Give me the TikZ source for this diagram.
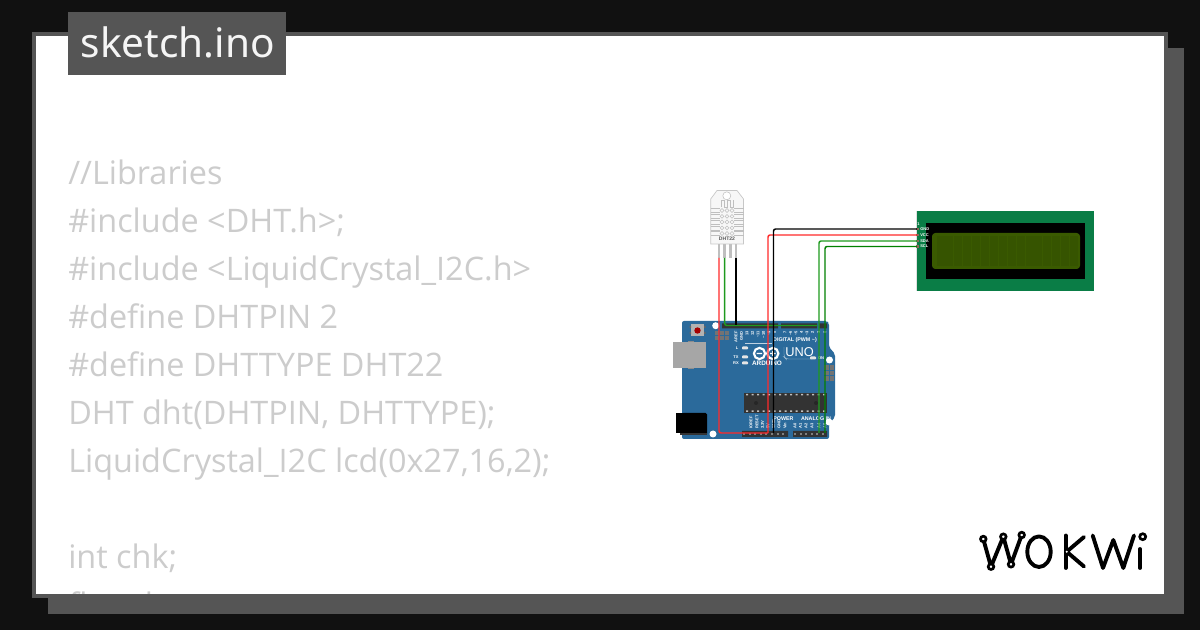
\documentclass[tikz,border=0pt]{standalone}
\usepackage{fontspec}
\setmainfont{Open Sans}
\newfontfamily\titlefont{Noto Sans}
\newfontfamily\tinyfont{Liberation Sans}
\definecolor{bgdark}{HTML}{111111}
\definecolor{framegray}{HTML}{555555}
\definecolor{codegray}{HTML}{CCCCCC}
\definecolor{unoblue}{HTML}{2B6A9B}
\definecolor{lcdgreen}{HTML}{0A7D46}
\definecolor{lcdscreen}{HTML}{3A5A00}
\definecolor{lcdcell}{HTML}{365400}
\definecolor{wirered}{HTML}{FF2A2A}
\definecolor{wiregreen}{HTML}{1E9A1E}
\definecolor{wiredark}{HTML}{008000}
\definecolor{hdr}{HTML}{333333}
\definecolor{pinbrown}{HTML}{8C6A5A}
\tikzset{
  codeline/.style={anchor=base west,inner sep=0pt,text=codegray,font=\fontsize{24.3pt}{24.3pt}\selectfont},
  wirebase/.style={line width=1.1pt,rounded corners=1.6pt},
  logostroke/.style={line width=2.9pt,line cap=round,line join=round,black},
  logoring/.style={draw=black,line width=2pt,fill=white},
  silk/.style={inner sep=0pt,text=white,font=\tinyfont\bfseries\fontsize{3pt}{3pt}\selectfont},
  silkb/.style={inner sep=0pt,text=white,font=\tinyfont\bfseries\fontsize{4pt}{4pt}\selectfont},
  pad/.style={fill=black!55,draw=none},
  led/.style={fill=white!90!black,draw=none,rounded corners=0.6pt},
}
\begin{document}
\begin{tikzpicture}[x=0.75pt,y=-0.75pt]
\useasboundingbox (0,0) rectangle (1200,630);
% page
\fill[bgdark] (0,0) rectangle (1200,630);
\fill[framegray] (48,48) rectangle (1184,614);
\fill[framegray] (32,32) rectangle (1168,598);
\fill[white] (36,36) rectangle (1164,594);
% code
\begin{scope}
\clip (36,36) rectangle (1164,594);
\node[codeline] (c1) at (68,184.6) {//Libraries};
\node[codeline] (c2) at (68,232.6) {\#include <DHT.h>;};
\node[codeline] (c3) at (68,280.6) {\#include <LiquidCrystal\_I2C.h>};
\node[codeline] (c4) at (68,328.6) {\#define DHTPIN 2};
\node[codeline] (c5) at (68,376.6) {\#define DHTTYPE DHT22};
\node[codeline] (c6) at (68,424.6) {DHT dht(DHTPIN, DHTTYPE);};
\node[codeline] (c7) at (68,472.6) {LiquidCrystal\_I2C lcd(0x27,16,2);};
\node[codeline] (c8) at (68,568.6) {int chk;};
\node[codeline] (c9) at (68,616.6) {float hum;};
\end{scope}
% title tab
\fill[framegray] (68,12) rectangle (286,75);
\node[anchor=base west,inner sep=0pt,text=white!96!black,font=\titlefont\fontsize{30.4pt}{30.4pt}\selectfont] (title) at (80.5,58) {sketch.ino};
% ===== Arduino board
\fill[unoblue,rounded corners=1.5pt] (682,321) -- (827,321) -- (829,323) -- (829,347) -- (835,354) -- (835,417) -- (829,424) -- (829,439) -- (682,439) -- cycle;
% USB and jack
\fill[black!35] (673,342) rectangle (706,368);
\fill[black!45] (688,341) rectangle (694,342);
\fill[black!45] (688,368) rectangle (694,369.5);
\fill[black] (676,413) rectangle (683,433);
\fill[black,rounded corners=1pt] (682,413) rectangle (707,435);
\fill[hdr] (680,433) rectangle (707,435.5);
% reset
\fill[black!30] (691,324) rectangle (704,336);
\fill[black!60] (689.5,326) rectangle (691,328) (689.5,332) rectangle (691,334) (704,326) rectangle (705.5,328) (704,332) rectangle (705.5,334);
\fill[red!65!black] (697.5,330.5) circle (3.2);
% holes
\fill[white] (715.7,325.7) circle (3.5) (829.5,360) circle (3.5) (829,422) circle (3.5) (713,434) circle (3.5);
% headers
\fill[hdr] (722,323.5) rectangle (778,328.5) (781,323.5) rectangle (817,328.5) (819,323.5) rectangle (827,328.5);
\fill[hdr] (742,431) rectangle (788,437) (793,431) rectangle (827,437);
\foreach \x in {744,749.6,...,786}{\fill[black!50] (\x-1,433) rectangle (\x+1,435);}
\foreach \x in {795,800.6,...,826}{\fill[black!50] (\x-1,433) rectangle (\x+1,435);}
% ICSP
\foreach \x in {716.5,721.5,727}{\foreach \y in {333,338.5}{\fill[pad] (\x-2,\y-2) rectangle (\x+2,\y+2);}}
\foreach \x in {826.5,832}{\foreach \y in {367.5,373,378.5}{\fill[pad] (\x-2.4,\y-2.2) rectangle (\x+2.4,\y+2.2);}}
% chip
\fill[hdr] (744,393) rectangle (827,413);
\foreach \x in {746,751.5,...,826}{\fill[white!75!black] (\x,394) rectangle (\x+2,395.5) (\x,410.5) rectangle (\x+2,412);}
\fill[black!85] (756,403) circle (2) (816,403) circle (2);
% LEDs
\fill[led] (742,346.5) rectangle (748,349.5) (742,355.5) rectangle (748,358.5) (742,361.5) rectangle (748,364.5) (810,356.5) rectangle (816,359.5);
\node[silk] (ledL) at (737,348) {L};
\node[silk] (ledT) at (736,357) {TX};
\node[silk] (ledR) at (736,363) {RX};
\node[silk] (ledO) at (821,358) {ON};
% logo
\draw[white,line width=1.6pt] (759.5,353.5) circle (5.6) (772.8,353.5) circle (5.6);
\fill[white] (756.5,353) rectangle (762,354.2) (770,353) rectangle (775.6,354.2) (772.2,351) rectangle (773.4,356);
\node[silkb,font=\tinyfont\bfseries\fontsize{4.8pt}{4.8pt}\selectfont] (ardu) at (767,363.6) {ARDUINO};
\node[inner sep=0pt,text=white,font=\tinyfont\fontsize{9.6pt}{9.6pt}\selectfont] (uno) at (799.5,352.5) {UNO};
\draw[white!60!unoblue,line width=0.3pt,rounded corners=2pt] (784,347) -- (784,357) -- (786,359) -- (812,359);
% board text
\node[silkb] (digi) at (795,340) {DIGITAL (PWM \char`\~)};
\draw[white!70!unoblue,line width=0.35pt] (745,343.5) -- (772,343.5);
\node[silkb] (pow) at (783.5,419) {POWER};
\node[silkb] (ana) at (816,419) {ANALOG IN};
\foreach \t/\x in {AREF/736,GND/741.5,13/747,12/752.5,{\char`\~11}/758,{\char`\~10}/763.5,{\char`\~9}/769,8/774.5,{7}/785,{\char`\~6}/790.5,{\char`\~5}/796,4/801.5,{\char`\~3}/807,2/812.5,1/818.5,0/825}{
  \node[silk,rotate=90,anchor=east] at (\x,331) {\t};
}
\foreach \t/\x in {IOREF/751,RESET/757,3.3V/762.5,5V/768,GND/773.5,GND/779,Vin/785,A0/795,A1/800.6,A2/806,A3/812,A4/819,A5/825}{
  \node[silk,rotate=90,anchor=west] at (\x,429) {\t};
}
% ===== DHT22
\foreach \x in {719,724.7,730.3,736}{\draw[black!25,line width=1.9pt] (\x,244) -- (\x,258);}
\filldraw[fill=black!3,draw=black!22,line width=0.5pt] (710.7,244) -- (710.7,199) -- (717,190.5) -- (737,190.5) -- (743.5,199) -- (743.5,244) -- cycle;
\draw[black!25,line width=0.4pt,fill=white] (726.8,195.8) circle (4);
\draw[black!25,line width=0.4pt] (721,207) -- (721,200.5) -- (724,200.5) -- (724,207) -- (727,207) -- (727,200.5) -- (730,200.5) -- (730,207) -- (733,207) -- (733,200.5);
\foreach \y in {210.5,216.3,222,227.8,233.5}{
  \draw[black!25,line width=0.4pt] (710.7,\y-2) -- (720,\y-2) (710.7,\y+2) -- (720,\y+2) (734,\y-2) -- (743.5,\y-2) (734,\y+2) -- (743.5,\y+2);
  \foreach \x in {722,727,732}{\draw[black!25,line width=0.4pt] (\x,\y) circle (1.9);}
}
\node[inner sep=0pt,text=black!65,font=\tinyfont\bfseries\fontsize{3.8pt}{3.8pt}\selectfont] (dhtlabel) at (727,239) {DHT22};
% ===== LCD
\fill[lcdgreen] (915.7,211) rectangle (1094,291);
\draw[black!12,line width=0.3pt] (915.8,211) -- (915.8,291);
\fill[black] (926,223) rectangle (1085,279);
\fill[lcdscreen,rounded corners=2.5pt] (932,233) rectangle (1080,269);
\foreach \i in {0,...,15}{\fill[lcdcell] (936.5+\i*8.9,236) rectangle (944.5+\i*8.9,266);}
\foreach \y in {229,235,241,246.5}{\fill[pinbrown] (915.5,\y-1.3) rectangle (918.5,\y+1.3);}
\node[silk,anchor=west] (lcd1) at (917,224.5) {1};
\node[silk,anchor=west] (lgnd) at (920,229) {GND};
\node[silk,anchor=west] (lvcc) at (920,235) {VCC};
\node[silk,anchor=west] (lsda) at (920,241) {SDA};
\node[silk,anchor=west] (lscl) at (920,246.5) {SCL};
% ===== connection points
\coordinate (dhtvcc) at (719,258);
\coordinate (dhtsda) at (724.7,258);
\coordinate (dhtgnd) at (736,258);
\coordinate (unoGndTop) at (736,325);
\coordinate (unoD2) at (817,325.5);
\coordinate (uno5v) at (768,433);
\coordinate (unoGndBot) at (773.5,433);
\coordinate (unoA4) at (819,433);
\coordinate (unoA5) at (825,433);
\coordinate (lcdgnd) at (917,229);
\coordinate (lcdvcc) at (917,235);
\coordinate (lcdsda) at (917,241);
\coordinate (lcdscl) at (917,246.5);
% wires
\draw[wirebase,wiregreen] (dhtsda) |- (unoD2);
\draw[wirebase,black] (dhtgnd) -- (unoGndTop);
\draw[wirebase,wirered] (dhtvcc) |- (uno5v);
\draw[wirebase,wirered] (lcdvcc) -| (uno5v);
\draw[wirebase,black] (lcdgnd) -| (unoGndBot);
\draw[wirebase,wiregreen] (lcdsda) -| (unoA4);
\draw[wirebase,wiredark] (lcdscl) -| (unoA5);
% ===== Wokwi logo
\coordinate (wa) at (983.3,539);
\coordinate (wb) at (991,566.7);
\coordinate (wc) at (1003.3,536.7);
\coordinate (wd) at (1011,564.3);
\coordinate (we) at (1021.7,535);
\draw[logostroke] (wa) -- (wb) -- (wc) -- (wd) -- (we);
\foreach \p in {wa,wb,wc,wd,we}{\draw[logoring] (\p) circle (2.8);}
\draw[logostroke] (1039,551.7) ellipse (11.7 and 15.3);
\draw[logostroke] (1065.7,535.5) -- (1065.7,568);
\draw[logostroke] (1084,537) -- (1066.7,551.7) -- (1084,566.5);
\fill[white] (1066.7,551.7) circle (1.1);
\draw[logostroke] (1092.7,535.5) -- (1103,568) -- (1113.3,540) -- (1123.3,568) -- (1134,535.5);
\draw[logostroke] (1140,549) -- (1140,568);
\draw[logoring] (1142.7,536.7) circle (3);
\end{tikzpicture}
\end{document}
